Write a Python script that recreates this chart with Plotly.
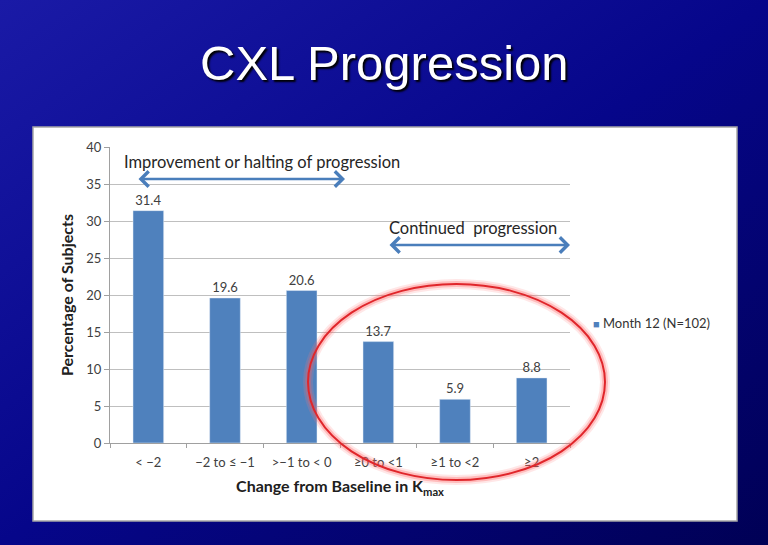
import base64
import plotly.graph_objects as go

# chart values
categories = ["< \u22122", "\u22122 to \u2264 \u22121", ">\u22121 to < 0", "\u22650 to <1", "\u22651 to <2", "\u22652"]
month12 = [31.4, 19.6, 20.6, 13.7, 5.9, 8.8]
series_name = "Month 12 (N=102)"
y_ticks = [0, 5, 10, 15, 20, 25, 30, 35, 40]

# page geometry (pixels)
W, H = 768, 545
L, R, T, B = 110, 570, 147, 443
pw, ph = R - L, B - T


def px(x):
    return (x - L) / pw


def py(y):
    return (B - y) / ph


# blue slide background as an svg gradient
svg = """<svg xmlns='http://www.w3.org/2000/svg' width='768' height='545'>
<defs><linearGradient id='g' x1='0' y1='0' x2='1' y2='1'>
<stop offset='0' stop-color='#1a1aa6'/><stop offset='0.5' stop-color='#06068a'/>
<stop offset='1' stop-color='#000055'/></linearGradient></defs>
<rect width='768' height='545' fill='url(#g)'/></svg>"""
bg_src = "data:image/svg+xml;base64," + base64.b64encode(svg.encode()).decode()

bar_blue = "#4f81bd"
text_grey = "#404040"

fig = go.Figure()
fig.add_trace(go.Bar(
    x=categories, y=month12, name=series_name,
    marker=dict(color=bar_blue),
    text=[f"{v:.1f}" for v in month12], textposition="outside",
    textfont=dict(family="Lato", size=13, color=text_grey),
    cliponaxis=False, showlegend=False,
))

fig.update_layout(
    width=W, height=H,
    margin=dict(l=L, r=W - R, t=T, b=H - B),
    paper_bgcolor="#0a0a90",
    plot_bgcolor="rgba(0,0,0,0)",
    bargap=0.6,
    font=dict(family="Lato", color=text_grey),
    showlegend=False,
    images=[dict(source=bg_src, xref="paper", yref="paper",
                 x=px(0), y=py(0), sizex=W / pw, sizey=H / ph,
                 sizing="stretch", xanchor="left", yanchor="top", layer="below")],
)

fig.update_yaxes(
    range=[0, 40], tickvals=y_ticks, showgrid=True, gridcolor="#bfbfbf", gridwidth=1,
    showline=True, linecolor="#a0a0a0", ticks="outside", ticklen=5, tickcolor="#a0a0a0",
    tickfont=dict(family="Lato", size=13, color=text_grey),
    title=dict(text="<b>Percentage of Subjects</b>", standoff=8,
               font=dict(family="Lato", size=16, color="#202020")),
    zeroline=False,
)
fig.update_xaxes(
    showline=True, linecolor="#a0a0a0", ticks="outside", tickson="boundaries",
    ticklen=4, tickcolor="#a0a0a0", ticklabelstandoff=7,
    tickfont=dict(family="Lato", size=13, color=text_grey),
    title=dict(text="<b>Change from Baseline in K<sub>max</sub></b>", standoff=12,
               font=dict(family="Lato", size=16, color="#202020")),
)

# white chart panel
fig.add_shape(type="rect", xref="paper", yref="paper",
              x0=px(33), x1=px(737), y0=py(521), y1=py(127),
              fillcolor="white", line=dict(color="#a6a6a6", width=1.5), layer="below")

# legend drawn as a text entry beside the plot
fig.add_annotation(xref="paper", yref="paper", x=px(591), y=py(323),
                   text=f"<span style='color:{bar_blue};font-size:11px'>\u25a0</span> {series_name}",
                   showarrow=False, xanchor="left", yanchor="middle",
                   font=dict(family="Lato", size=13, color="#333333"))

# slide title with drop shadow
fig.add_annotation(text="CXL Progression", xref="paper", yref="paper",
                   x=px(384), y=py(63), showarrow=False,
                   xanchor="center", yanchor="middle",
                   font=dict(family="Liberation Sans", size=49, color="#ffffff",
                             shadow="2px 2px 2px #000000"))

# bracket arrows and their labels
arrow_blue = "#4a7ebb"
arrows = [
    ("Improvement or halting of progression", 137, 345, 179, 122, 162),
    ("Continued  progression", 388, 570, 245, 387, 228),
]
for label, xa, xb, ya, xt, yt in arrows:
    fig.add_annotation(xref="paper", yref="paper", x=px(xb), y=py(ya),
                       ax=xa - xb, ay=0, axref="pixel", ayref="pixel",
                       text="", showarrow=True, arrowside="end+start",
                       arrowhead=4, startarrowhead=4, arrowsize=1.2, startarrowsize=1.2,
                       arrowwidth=2.5, arrowcolor=arrow_blue)
    fig.add_annotation(xref="paper", yref="paper", x=px(xt), y=py(yt),
                       text=label, showarrow=False, xanchor="left", yanchor="middle",
                       font=dict(family="Lato", size=16.5, color="#262626"))

# red highlight ellipse with soft glow
ell = dict(x0=px(308), x1=px(605), y0=py(480), y1=py(284))
for w, c in [(10, "rgba(255,120,120,0.18)"), (6, "rgba(255,90,90,0.3)"), (2, "#e0262b")]:
    fig.add_shape(type="circle", xref="paper", yref="paper", **ell,
                  line=dict(color=c, width=w), layer="above")

fig.write_html("out.html", config={"displayModeBar": False},
               post_script="document.body.style.margin='0';")
